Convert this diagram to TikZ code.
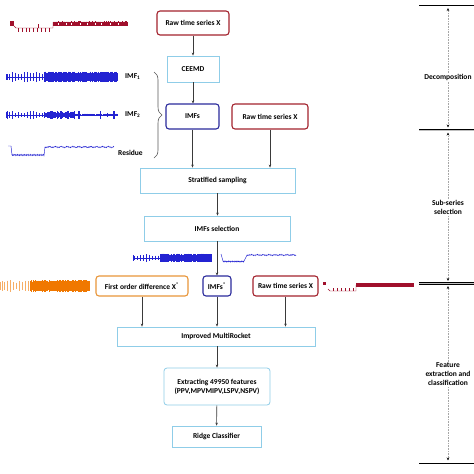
\documentclass[tikz,border=0pt]{standalone}
\usepackage{fontspec}
\setmainfont{Carlito}
\usetikzlibrary{arrows.meta,decorations.pathreplacing}
\definecolor{lb}{HTML}{8FCDE8}
\definecolor{rd}{HTML}{A3232E}
\definecolor{bl}{HTML}{2B2B9C}
\definecolor{og}{HTML}{E8963A}
\definecolor{wblue}{HTML}{2323D2}
\definecolor{wred}{HTML}{A0102C}
\definecolor{worange}{HTML}{F07800}
\definecolor{ln}{HTML}{3A3A3A}
\tikzset{
  box/.style={draw=lb,line width=0.8pt,fill=white,align=center,inner sep=2pt,font=\fontsize{7.5}{9}\selectfont\bfseries},
  rbox/.style={box,draw=rd,line width=1.1pt,rounded corners=3pt},
  bbox/.style={box,draw=bl,line width=1.1pt,rounded corners=3pt},
  obox/.style={box,draw=og,line width=1.1pt,rounded corners=3pt},
  ar/.style={-{Stealth[length=3pt,width=2.5pt]},line width=0.6pt,draw=ln},
  lbl/.style={font=\fontsize{7.5}{9}\selectfont\bfseries,inner sep=1pt},
  stage/.style={lbl,fill=white,align=center},
  septhin/.style={line width=1pt},
  sepdouble/.style={double=gray!50,double distance=1pt,line width=0.6pt},
  stagearr/.style={gray!70,line width=0.5pt,dash pattern=on 0.6pt off 1pt,{Stealth[length=3pt,width=2.5pt,black]}-{Stealth[length=3pt,width=2.5pt,black]}},
  wave/.style={line width=0.45pt},
}
\begin{document}
\begin{tikzpicture}[x=1pt,y=-1pt]
\fill[white] (0,0) rectangle (474,474);
\useasboundingbox (0,0) rectangle (474,474);
\pgfmathsetseed{11}

% flow boxes
\node[rbox,minimum width=72pt,minimum height=24pt] (raw1) at (193,23) {Raw time series X};
\node[box,minimum width=52pt,minimum height=26pt] (ceemd) at (193,69) {CEEMD};
\node[bbox,minimum width=53pt,minimum height=25pt] (imfs) at (192.5,116.5) {IMFs};
\node[rbox,minimum width=76pt,minimum height=25pt] (raw2) at (270,116.5) {Raw time series X};
\node[box,minimum width=155pt,minimum height=25pt] (strat) at (217.5,180.5) {Stratified sampling};
\node[box,minimum width=146pt,minimum height=25pt] (imfsel) at (217,228.5) {IMFs selection};
\node[obox,minimum width=92pt,minimum height=20pt] (fod) at (142,286) {First order difference X\textsuperscript{*}};
\node[bbox,minimum width=28pt,minimum height=20pt] (imfstar) at (217,286) {IMFs\textsuperscript{*}};
\node[rbox,minimum width=65pt,minimum height=20pt] (raw3) at (285.5,286) {Raw time series X};
\node[box,minimum width=198pt,minimum height=19pt] (mrocket) at (216,336.5) {Improved MultiRocket};
\node[box,rounded corners=3pt,minimum width=106pt,minimum height=37pt] (extract) at (217,386.5) {Extracting 49950 features\\(PPV,MPVMIPV,LSPV,NSPV)};
\node[box,minimum width=89pt,minimum height=21pt] (ridge) at (216.5,436.5) {Ridge Classifier};

% connectors
\draw[ar] (raw1) -- (ceemd);
\draw[ar] (ceemd) -- (ceemd |- imfs.north);
\draw[ar] (imfs) -- (imfs |- strat.north);
\draw[ar] (raw2) -- (raw2 |- strat.north);
\draw[ar] (strat) -- (strat |- imfsel.north);
\draw[ar] (imfsel) -- (imfstar);
\draw[ar] (fod) -- (fod |- mrocket.north);
\draw[ar] (imfstar) -- (imfstar |- mrocket.north);
\draw[ar] (raw3) -- (raw3 |- mrocket.north);
\draw[ar] (extract |- mrocket.south) -- (extract);
\draw[ar] (extract) -- (ridge);

% signal labels
\node[lbl,anchor=west] (limf1) at (124,77) {IMF\textsubscript{1}};
\node[lbl,anchor=west] (limf2) at (124,115) {IMF\textsubscript{2}};
\node[lbl,anchor=west] (lres) at (117,153) {Residue};
\draw[decorate,decoration={brace,amplitude=8pt},gray!70!black,line width=0.6pt] (154,72) -- (154,158);

% raw signal, top
\fill[wred] (10,21) rectangle (14,26);
\draw[wred,wave] (14,26) -- (16,28) -- (53,28) -- (53,22);
\foreach \x in {18,22,26,29,33,37,41,45,49} \draw[wred,wave] (\x,28) -- (\x,32);
\draw[wred,wave] (38,28) -- (38,24);
\foreach \x in {53,53.4,...,127} {
  \pgfmathsetmacro\ha{22-0.6*rnd}\pgfmathsetmacro\hb{25.5+0.8*rnd}
  \draw[wred,wave] (\x,\ha) -- (\x,\hb);
}
\foreach \x in {58,66,71,80,87,95,101,110,118} \draw[white,line width=0.5pt] (\x,23) -- (\x,25);
% IMF1
\draw[wblue,wave] (6,77) -- (45,77);
\foreach \x in {6,7,9,12,15,18,21,24,27,30,33,36,39,42,44} {
  \pgfmathsetmacro\h{2.5+2.5*rnd}
  \draw[wblue,wave] (\x,77-\h) -- (\x,77+\h);
}
\foreach \x in {45,45.4,...,117} {
  \pgfmathsetmacro\h{3.5+1.8*rnd}
  \draw[wblue,wave] (\x,77-\h) -- (\x,77+\h);
}
% IMF2
\draw[wblue,wave] (6,115) -- (117,115);
\foreach \x in {6,7,9,12,15,18,21,24,27,30,33,36,39,42,44} {
  \pgfmathsetmacro\h{1.5+2.5*rnd}
  \draw[wblue,wave] (\x,115-\h) -- (\x,115+\h);
}
\foreach \x in {45,45.5,...,75} {
  \pgfmathsetmacro\h{1+3*rnd}
  \draw[wblue,wave] (\x,115-\h) -- (\x,115+\h);
}
\foreach \x in {75,76,...,117} {
  \pgfmathsetmacro\h{0.4+1.2*rnd}
  \draw[wblue,wave] (\x,115-\h) -- (\x,115+\h);
}
\foreach \x in {78,79,100,113,114} \draw[wblue,wave] (\x,111) -- (\x,119);
% residue
\draw[wblue,wave] (8,146) -- (11,146) -- (12,155)
  -- plot[domain=0:32,samples=60] ({12+\x},{155+0.7*sin(250*\x)})
  -- (45,147) -- plot[domain=0:69,samples=120] ({45+\x},{147+0.5*sin(230*\x)+0.4*sin(61*\x)});

% selected sub-series
\draw[wblue,wave] (133,258) -- (160,258);
\foreach \x in {133,134,137,140,143,146,149,152,155,158} {
  \pgfmathsetmacro\h{1.5+2.5*rnd}
  \draw[wblue,wave] (\x,258-\h) -- (\x,258+\h);
}
\foreach \x in {160,160.4,...,211} {
  \pgfmathsetmacro\h{2.8+1.5*rnd}
  \draw[wblue,wave] (\x,258-\h) -- (\x,258+\h);
}
\draw[wblue,wave] (221,254) -- (223,261)
  -- plot[domain=0:21,samples=40] ({223+\x},{261.5+0.6*sin(250*\x)})
  -- (247,255) -- plot[domain=0:49,samples=90] ({247+\x},{255+0.5*sin(230*\x)+0.3*sin(61*\x)});

% first order difference signal
\foreach \x in {0,2,4,7,10,13,16,19,22,25,28} {
  \pgfmathsetmacro\h{3+3*rnd}
  \draw[worange!60,wave] (\x,286-\h) -- (\x,286+\h);
}
\foreach \x in {30,30.4,...,89} {
  \pgfmathsetmacro\h{4+2*rnd}
  \draw[worange,wave] (\x,286-\h) -- (\x,286+\h);
}

% raw signal, right
\fill[wred] (323,282) rectangle (326,285);
\draw[wred,wave] (328,289) -- (330,291) -- (356,291) -- (356,285);
\foreach \x in {333,337,341,345,349,353} \draw[wred,wave] (\x,291) -- (\x,288);
\foreach \x in {356,356.4,...,413} {
  \pgfmathsetmacro\ha{283.5-0.5*rnd}\pgfmathsetmacro\hb{286.5+0.6*rnd}
  \draw[wred,wave] (\x,\ha) -- (\x,\hb);
}

% stage markers
\coordinate (s0) at (448,5.5);
\coordinate (s1) at (448,130);
\coordinate (s2) at (448,283.5);
\coordinate (s3) at (448,463);
\draw[septhin] (419,5.5) -- (474,5.5);
\draw[sepdouble] (419,130) -- (474,130);
\draw[sepdouble] (419,283.5) -- (474,283.5);
\draw[septhin] (419,463) -- (474,463);
\draw[stagearr,shorten <=2.5pt,shorten >=2.5pt] (s0) -- (s1);
\draw[stagearr,shorten <=2.5pt,shorten >=2.5pt] (s1) -- (s2);
\draw[stagearr,shorten <=2.5pt,shorten >=2.5pt] (s2) -- (s3);
\node[stage] (tdec) at (448,77) {Decomposition};
\node[stage] (tsub) at (448,207.5) {Sub-series\\selection};
\node[stage] (tfea) at (448,374) {Feature\\extraction and\\classification};
\end{tikzpicture}
\end{document}
